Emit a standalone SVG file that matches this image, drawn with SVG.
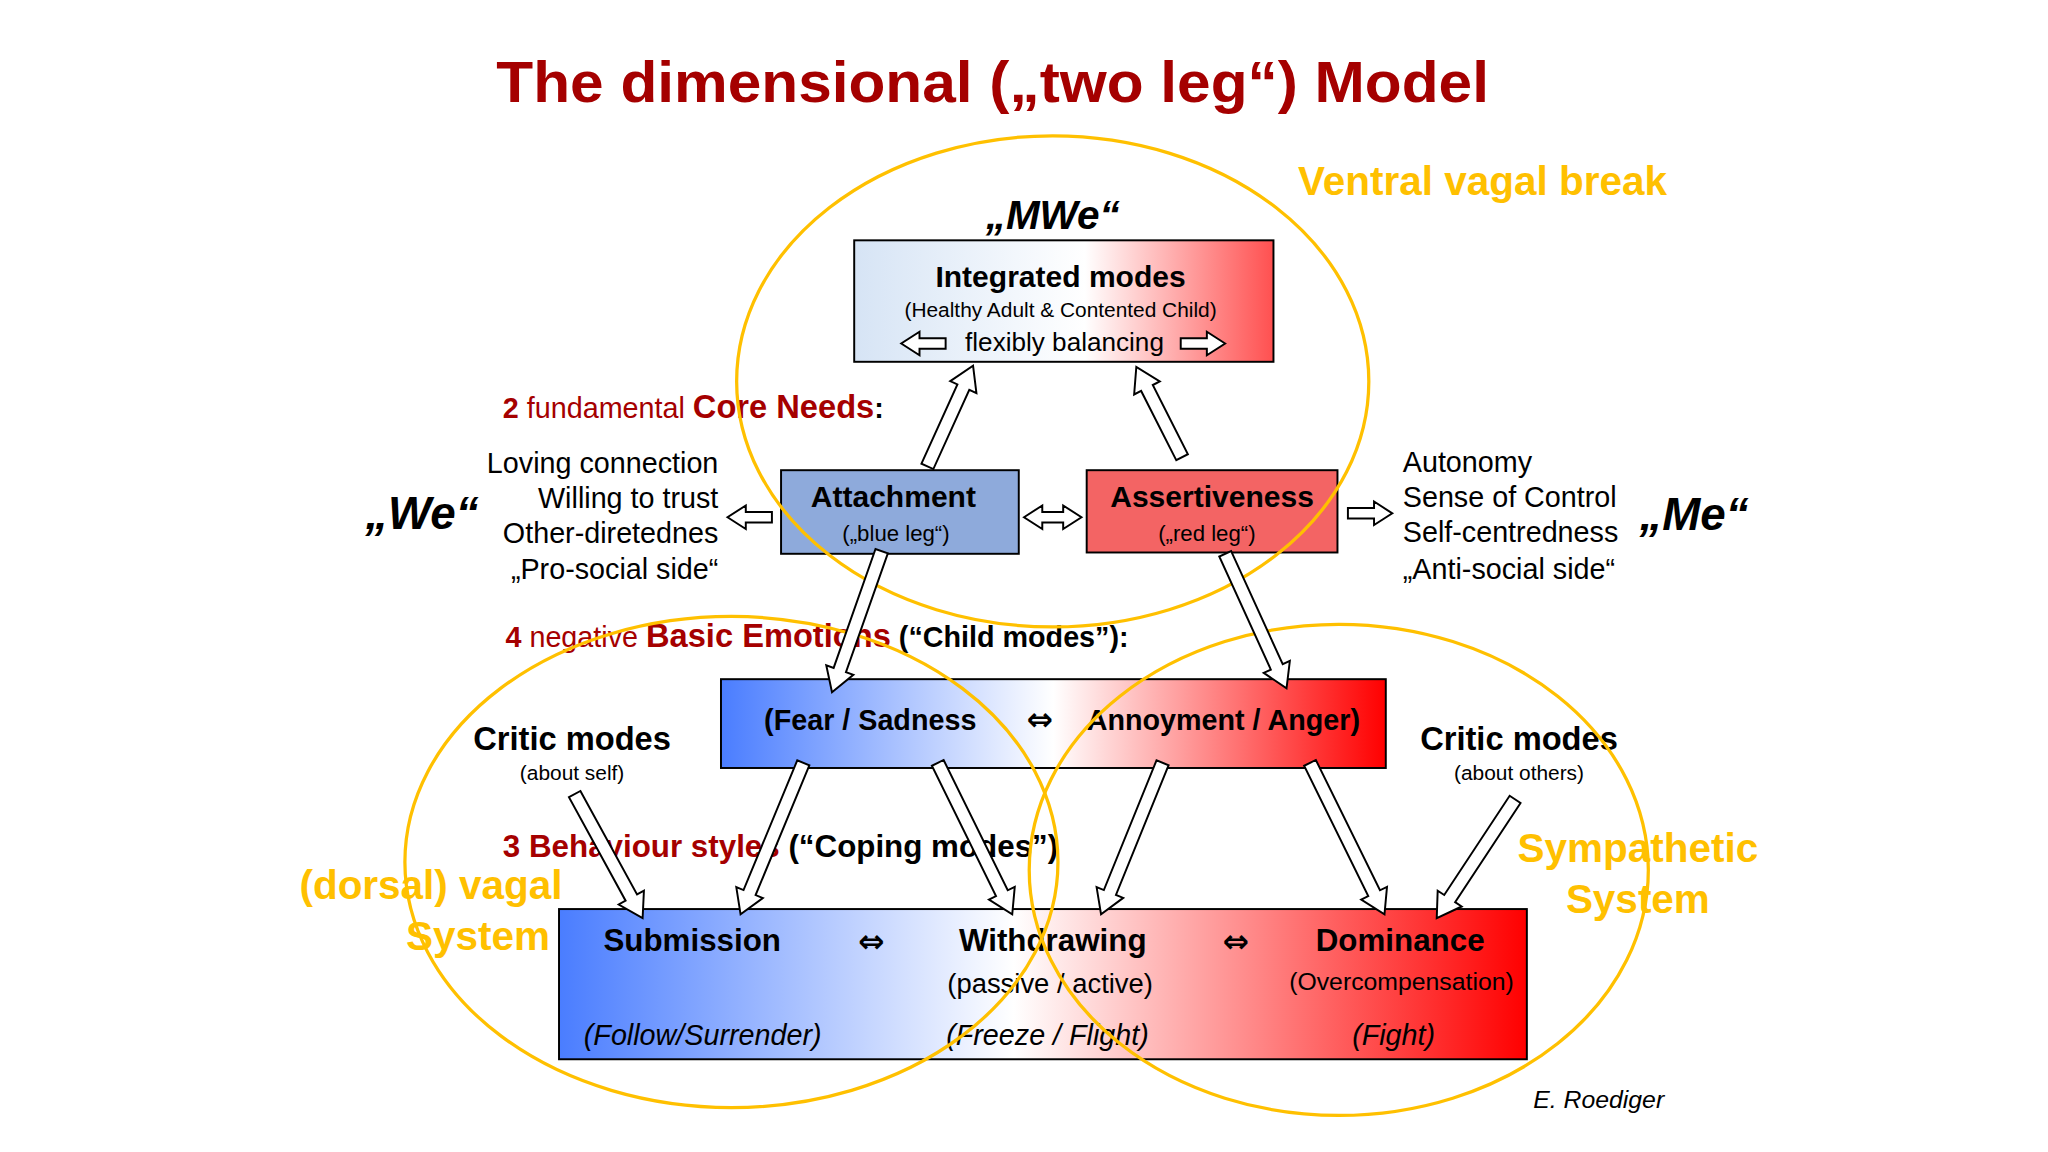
<svg xmlns="http://www.w3.org/2000/svg" width="2048" height="1152" viewBox="0 0 2048 1152">
<defs>
<style>
text{font-family:"Liberation Sans",Arial,sans-serif;fill:#000}
.b{font-weight:bold}
.i{font-style:italic}
.c{text-anchor:middle}
.r{text-anchor:end}
.red{fill:#a50000}
.or{fill:#ffc000;font-weight:bold;font-size:31px}
.ell{fill:none;stroke:#ffc000;stroke-width:2.5}
.box{stroke:#000;stroke-width:1.5}
.arr{fill:#fff;stroke:#000;stroke-width:1.5}
.sym{font-family:"DejaVu Sans",sans-serif;font-weight:bold}
</style>
<linearGradient id="gTop" x1="0" x2="1" y1="0" y2="0"><stop offset="0" stop-color="#d6e4f5"/><stop offset="0.55" stop-color="#ffffff"/><stop offset="1" stop-color="#ff5050"/></linearGradient>
<linearGradient id="gMid" x1="0" x2="1" y1="0" y2="0"><stop offset="0" stop-color="#4a7dff"/><stop offset="0.5" stop-color="#ffffff"/><stop offset="1" stop-color="#ff0000"/></linearGradient>
<linearGradient id="gBot" x1="0" x2="1" y1="0" y2="0"><stop offset="0" stop-color="#4a7dff"/><stop offset="0.47" stop-color="#ffffff"/><stop offset="1" stop-color="#ff0000"/></linearGradient>
<polygon id="hl" points="0,0 -14,-9 -14,-4 -34,-4 -34,4 -14,4 -14,9" class="arr"/>
</defs>
<rect width="2048" height="1152" fill="#fff"/>
<g transform="scale(1.30612)">
<text x="760" y="78" class="b c red" font-size="44" textLength="760" lengthAdjust="spacingAndGlyphs">The dimensional („two leg“) Model</text>
<text x="1135" y="149" class="or c">Ventral vagal break</text>

<g id="integrated">
<rect x="654" y="184" width="321" height="93" fill="url(#gTop)" class="box"/>
<text x="812" y="220" class="b c" font-size="23">Integrated modes</text>
<text x="812" y="243" class="c" font-size="16">(Healthy Adult &amp; Contented Child)</text>
<text x="815" y="269" class="c" font-size="20">flexibly balancing</text>
<use href="#hl" transform="translate(690,263) rotate(180)"/>
<use href="#hl" transform="translate(938,263)"/>
</g>
<text x="806" y="175" class="b i c" font-size="31">„MWe“</text>

<g id="coreneeds">
<text x="385" y="320" font-size="22"><tspan class="b red">2 </tspan><tspan class="red">fundamental </tspan><tspan class="b red" font-size="25">Core Needs</tspan><tspan class="b">:</tspan></text>
</g>

<g id="attachment">
<rect x="598" y="360" width="182" height="64" fill="#8eaadb" class="box"/>
<text x="684" y="388" class="b c" font-size="23">Attachment</text>
<text x="686" y="414" class="c" font-size="17">(„blue leg“)</text>
</g>
<g id="assertiveness">
<rect x="832" y="360" width="192" height="63" fill="#f36464" class="box"/>
<text x="928" y="388" class="b c" font-size="23">Assertiveness</text>
<text x="924" y="414" class="c" font-size="17">(„red leg“)</text>
</g>

<g id="we">
<text x="550" y="362" class="r" font-size="22">Loving connection</text>
<text x="550" y="389" class="r" font-size="22">Willing to trust</text>
<text x="550" y="416" class="r" font-size="22">Other-diretednes</text>
<text x="550" y="443" class="r" font-size="22">„Pro-social side“</text>
<text x="323" y="405" class="b i c" font-size="35">„We“</text>
</g>
<g id="me">
<text x="1074" y="361" font-size="22">Autonomy</text>
<text x="1074" y="388" font-size="22">Sense of Control</text>
<text x="1074" y="415" font-size="22">Self-centredness</text>
<text x="1074" y="443" font-size="22">„Anti-social side“</text>
<text x="1297" y="406" class="b i c" font-size="35">„Me“</text>
</g>

<text x="387" y="495" font-size="22"><tspan class="b red">4 </tspan><tspan class="red">negative </tspan><tspan class="b red" font-size="25">Basic Emotions</tspan><tspan class="b"> (“Child modes”):</tspan></text>

<g id="emotions">
<rect x="552" y="520" width="509" height="68" fill="url(#gMid)" class="box"/>
<text x="585" y="559" class="b" font-size="22">(Fear / Sadness</text>
<text x="796" y="559" class="sym c" font-size="24">⇔</text>
<text x="832" y="559" class="b" font-size="22">Annoyment / Anger)</text>
</g>

<g id="criticself">
<text x="438" y="574" class="b c" font-size="25">Critic modes</text>
<text x="438" y="597" class="c" font-size="16">(about self)</text>
</g>
<g id="criticothers">
<text x="1163" y="574" class="b c" font-size="25">Critic modes</text>
<text x="1163" y="597" class="c" font-size="16">(about others)</text>
</g>

<text x="385" y="656" font-size="24"><tspan class="b red">3 Behaviour styles</tspan><tspan class="b"> (“Coping modes”)</tspan></text>

<text x="330" y="688" class="or c">(dorsal) vagal</text>
<text x="366" y="727" class="or c">System</text>
<text x="1254" y="660" class="or c">Sympathetic</text>
<text x="1254" y="699" class="or c">System</text>

<g id="behaviour">
<rect x="428" y="696" width="741" height="115" fill="url(#gBot)" class="box"/>
<text x="530" y="728" class="b c" font-size="24">Submission</text>
<text x="667" y="729" class="sym c" font-size="24">⇔</text>
<text x="806" y="728" class="b c" font-size="24">Withdrawing</text>
<text x="946" y="729" class="sym c" font-size="24">⇔</text>
<text x="1072" y="728" class="b c" font-size="24">Dominance</text>
<text x="804" y="760" class="c" font-size="21">(passive / active)</text>
<text x="1073" y="758" class="c" font-size="19">(Overcompensation)</text>
<text x="538" y="800" class="i c" font-size="22">(Follow/Surrender)</text>
<text x="802" y="800" class="i c" font-size="22">(Freeze / Flight)</text>
<text x="1067" y="800" class="i c" font-size="22">(Fight)</text>
</g>

<text x="1224" y="848" class="i c" font-size="19">E. Roediger</text>

<g id="ellipses">
<ellipse cx="806" cy="292" rx="242" ry="188" class="ell"/>
<ellipse cx="560" cy="660" rx="250" ry="188" class="ell"/>
<ellipse cx="1025" cy="666" rx="237" ry="188" class="ell"/>
</g>

<g id="connectors">
<polygon class="arr" points="-84.6,-5 -18,-5 -18,-11 0,0 -18,11 -18,5 -84.6,5" transform="translate(745,280) rotate(-65.6)"/>
<polygon class="arr" points="-77.4,-5 -18,-5 -18,-11 0,0 -18,11 -18,5 -77.4,5" transform="translate(870,281) rotate(-116.9)"/>
<polygon class="arr" points="-114.5,-5 -18,-5 -18,-11 0,0 -18,11 -18,5 -114.5,5" transform="translate(637,530) rotate(109.4)"/>
<polygon class="arr" points="-113.2,-5 -18,-5 -18,-11 0,0 -18,11 -18,5 -113.2,5" transform="translate(985,527) rotate(65.5)"/>
<polygon class="arr" points="-108.3,-5 -18,-5 -18,-11 0,0 -18,11 -18,5 -108.3,5" transform="translate(492,703) rotate(61.3)"/>
<polygon class="arr" points="-125.5,-5 -18,-5 -18,-11 0,0 -18,11 -18,5 -125.5,5" transform="translate(567,700) rotate(112.5)"/>
<polygon class="arr" points="-129.2,-5 -18,-5 -18,-11 0,0 -18,11 -18,5 -129.2,5" transform="translate(775,700) rotate(63.8)"/>
<polygon class="arr" points="-125.2,-5 -18,-5 -18,-11 0,0 -18,11 -18,5 -125.2,5" transform="translate(843,700) rotate(112.1)"/>
<polygon class="arr" points="-129.2,-5 -18,-5 -18,-11 0,0 -18,11 -18,5 -129.2,5" transform="translate(1060,700) rotate(63.8)"/>
<polygon class="arr" points="-109,-5 -18,-5 -18,-11 0,0 -18,11 -18,5 -109,5" transform="translate(1100,703) rotate(123.4)"/>
<use href="#hl" transform="translate(557,396) rotate(180)"/>
<use href="#hl" transform="translate(1066,393)"/>
<polygon class="arr" points="784,396 798,387 798,392 814,392 814,387 828,396 814,405 814,400 798,400 798,405"/>
</g>
</g>
</svg>
